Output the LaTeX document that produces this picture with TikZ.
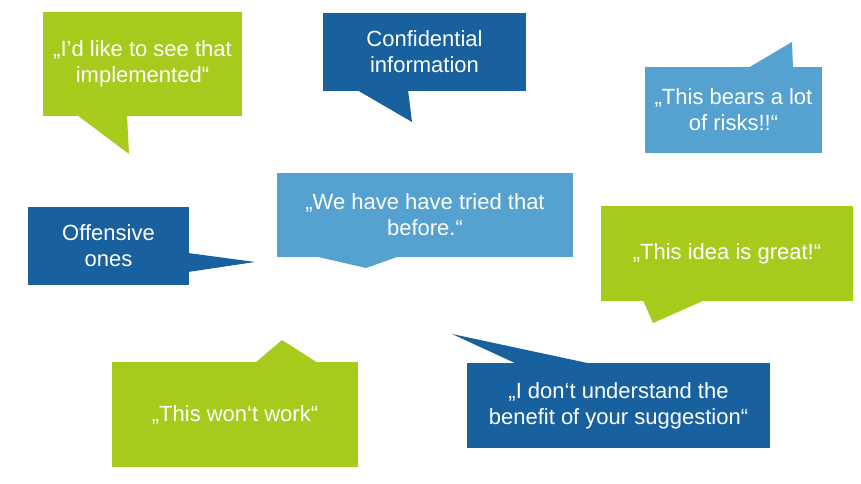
\documentclass[tikz,border=0pt]{standalone}
\usepackage{fontspec}
\setmainfont{Liberation Sans}
\usepackage{xcolor}
\usetikzlibrary{positioning}

\definecolor{limegreen}{HTML}{A6CB1C}
\definecolor{darkblue}{HTML}{18609E}
\definecolor{lightblue}{HTML}{55A1CF}

\begin{document}
\begin{tikzpicture}[
    x=0.75pt, y=-0.75pt,
    bubble/.style={
        rectangle, inner sep=0pt,
        align=center, text=white,
        font=\fontsize{16.5}{19.4}\selectfont
    },
    greenbub/.style={bubble, fill=limegreen},
    darkbub/.style={bubble, fill=darkblue},
    lightbub/.style={bubble, fill=lightblue},
]

% Canvas
\useasboundingbox[fill=white] (0,0) rectangle (861,484);

% Bubbles
\node[greenbub, minimum width=149.25pt, minimum height=78pt] (like) at (142.5,64)
    {„I’d like to see that\\implemented“};
\node[darkbub, minimum width=152.25pt, minimum height=58.5pt] (conf) at (424.5,52)
    {Confidential\\information};
\node[lightbub, minimum width=132.75pt, minimum height=64.5pt] (risk) at (733.5,110)
    {„This bears a lot\\of risks!!“};
\node[darkbub, minimum width=120.75pt, minimum height=58.5pt] (offe) at (108.5,246)
    {Offensive\\ones};
\node[lightbub, minimum width=222pt, minimum height=63pt] (tried) at (425,215)
    {„We have have tried that\\before.“};
\node[greenbub, minimum width=189pt, minimum height=71.25pt] (great) at (727,253.5)
    {„This idea is great!“};
\node[greenbub, minimum width=184.5pt, minimum height=78.75pt] (wont) at (235,414.5)
    {„This won‘t work“};
\node[darkbub, minimum width=227.25pt, minimum height=63.75pt] (bene) at (618.5,405.5)
    {„I don‘t understand the\\benefit of your suggestion“};

% Tail tips
\coordinate (likeT)  at (129,154);
\coordinate (confT)  at (412,122);
\coordinate (riskT)  at (792,42);
\coordinate (offeT)  at (255,262);
\coordinate (triedT) at (366,268);
\coordinate (greatT) at (653,323);
\coordinate (wontT)  at (282,340);
\coordinate (beneT)  at (452,334);

% Tails
\fill[limegreen] (77,115)  -- (likeT)  -- (127,115) -- cycle;
\fill[darkblue]  (357,90)  -- (confT)  -- (408,90)  -- cycle;
\fill[lightblue] (748,68)  -- (riskT)  -- (793,68)  -- cycle;
\fill[darkblue]  (188,253) -- (offeT)  -- (188,272) -- cycle;
\fill[lightblue] (314,256) -- (triedT) -- (400,256) -- cycle;
\fill[limegreen] (643,300) -- (greatT) -- (705,300) -- cycle;
\fill[limegreen] (255,363) -- (wontT)  -- (318,363) -- cycle;
\fill[darkblue]  (517,364) -- (beneT)  -- (592,364) -- cycle;

\end{tikzpicture}
\end{document}
